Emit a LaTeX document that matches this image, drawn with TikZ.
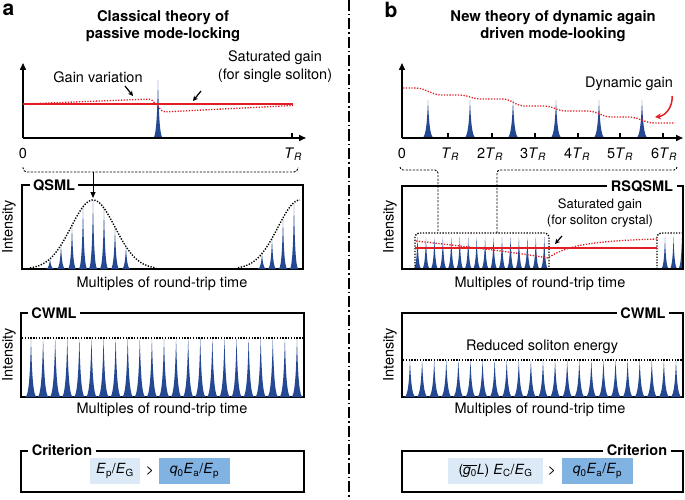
\documentclass[tikz,border=0pt]{standalone}
\usepackage{fontspec}
\setmainfont{TeX Gyre Heros}
\usetikzlibrary{arrows.meta}
\definecolor{pdark}{RGB}{36,72,145}
\definecolor{gred}{RGB}{225,30,35}
\definecolor{lbox}{RGB}{220,233,246}
\definecolor{dbox}{RGB}{128,178,226}
\newcommand{\mypulse}[4]{%
  \path[pulse] ({#1-#4},#3) .. controls ({#1-0.28*#4},#3) and ({#1-0.12*#4},{#3-0.55*(#3-#2)}) .. (#1,#2)
   .. controls ({#1+0.12*#4},{#3-0.55*(#3-#2)}) and ({#1+0.28*#4},#3) .. ({#1+#4},#3) -- cycle;}
\tikzset{
  pulse/.style={fill=pdark, draw=none},
  box/.style={line width=1.5pt},
  boxlabel/.style={fill=white, font=\bfseries\fontsize{14.5}{17}\selectfont, inner sep=3.5pt},
  txt/.style={font=\fontsize{14.5}{18}\selectfont, align=center, inner sep=0pt},
  stxt/.style={font=\fontsize{13}{16}\selectfont, align=center, inner sep=0pt},
  ttl/.style={font=\bfseries\fontsize{14.8}{17}\selectfont, align=center, inner sep=0pt},
  axis/.style={line width=1.5pt, -{Triangle[length=7pt,width=6pt]}},
  tick/.style={line width=1.2pt},
  bdot/.style={line width=1.4pt, dash pattern=on 1.3pt off 1.5pt},
  rdot/.style={gred, line width=1.3pt, dash pattern=on 1.3pt off 1.5pt},
  gline/.style={gred, line width=1.5pt},
  sarrow/.style={line width=1.2pt, -{Stealth[length=5pt,width=5pt]}},
  dashbr/.style={line width=0.9pt, dash pattern=on 2.2pt off 1.4pt},
  crit/.style={minimum height=26pt, inner sep=0pt, font=\fontsize{14}{16}\selectfont},
}
\begin{document}
\begin{tikzpicture}[x=1pt,y=-1pt]
\useasboundingbox (0,0) rectangle (685,500);

% separator
\coordinate (s1) at (349,0);
\coordinate (s2) at (349,500);
\draw[line width=1.1pt, dash pattern=on 11pt off 3pt on 1.5pt off 3pt] (s1) -- (s2);

% ================= LEFT PANEL =================
\node[font=\bfseries\fontsize{21}{21}\selectfont, inner sep=0pt] (la) at (8.5,10) {a};
\node[ttl] (ta) at (163,26) {Classical theory of\\passive mode-locking};

% top plot
\mypulse{158}{80}{138}{5}
\coordinate (oa) at (23,138);
\coordinate (ya) at (23,63);
\coordinate (xa) at (306,138);
\draw[axis] (oa) -- (ya);
\draw[axis] (oa) -- (xa);
\draw[tick] (292,138) -- (292,133);
\node[txt] (z0a) at (23,153) {0};
\node[txt] (tra) at (293,154) {\textit{T}\textsubscript{\textit{R}}};
\draw[gline] (23,104) -- (293,104);
\draw[rdot, rounded corners=2pt] (23,104) -- (151,99) -- (163,112) -- (293,105.5);
\node[txt] (gva) at (98,77) {Gain variation};
\coordinate (gv1) at (125,86);
\coordinate (gv2) at (133,96);
\draw[sarrow] (gv1) -- (gv2);
\node[txt] (sga) at (275,67) {Saturated gain\\(for single soliton)};
\coordinate (sg1) at (201,91);
\coordinate (sg2) at (193,101);
\draw[sarrow] (sg1) -- (sg2);

% brace
\coordinate (br1) at (23,167);
\coordinate (br2) at (298,167);
\coordinate (brc) at (93,172);
\coordinate (qpk) at (93,198);
\draw[dashbr, rounded corners=4pt] (br1) |- (brc) -| (br2);

% QSML box
\draw[box] (22,185) rectangle (303,269);
\node[boxlabel] (qsml) at (54,185) {QSML};
\draw[line width=1pt, -{Triangle[length=6pt,width=5pt]}] (brc) -- (qpk);
\foreach \x in {50,61,72,83,93,104,115,126} {
  \pgfmathsetmacro\tp{269-69*exp(-((\x-93)^2)/968)}
  \mypulse{\x}{\tp}{269}{4.5}
}
\foreach \x in {262,272,283,294} {
  \pgfmathsetmacro\tp{269-69*exp(-((\x-300)^2)/968)}
  \mypulse{\x}{\tp}{269}{4.5}
}
\draw[bdot] plot[domain=30:156, samples=70] (\x,{269-69*exp(-((\x-93)^2)/968)});
\draw[bdot] plot[domain=238:300, samples=40] (\x,{269-69*exp(-((\x-300)^2)/968)});
\node[txt, rotate=90] (ia1) at (9,227) {Intensity};
\node[txt] (ma1) at (162,284) {Multiples of round-trip time};

% CWML box
\draw[box] (21,313) rectangle (304,397);
\foreach \i in {0,...,22} {
  \pgfmathsetmacro\xx{31+12.09*\i}
  \mypulse{\xx}{338}{397}{5.8}
}
\draw[bdot] (22,338) -- (303,338);
\node[boxlabel] (cwa) at (54,313) {CWML};
\node[txt, rotate=90] (ia2) at (9,355) {Intensity};
\node[txt] (ma2) at (162,410) {Multiples of round-trip time};

% Criterion
\draw[box] (21,451) rectangle (304,492);
\node[boxlabel] (cra) at (62,450) {Criterion};
\node[crit, fill=lbox, minimum width=50pt] (ca1) at (115,471) {\textit{E}\textsubscript{p}/\textit{E}\textsubscript{G}};
\node[crit] (gta) at (150,471) {>};
\node[crit, fill=dbox, minimum width=71pt] (ca2) at (194.5,471) {\textit{q}\textsubscript{0}\textit{E}\textsubscript{a}/\textit{E}\textsubscript{p}};

% ================= RIGHT PANEL =================
\node[font=\bfseries\fontsize{21}{21}\selectfont, inner sep=0pt] (lb) at (391,10) {b};
\node[ttl] (tb) at (553,26) {New theory of dynamic again\\driven mode-looking};

\foreach \x in {428,470,513,556,599,642} {
  \mypulse{\x}{100}{138}{6}
}
\coordinate (ob) at (402,138);
\coordinate (yb) at (402,63);
\coordinate (xb) at (683,138);
\draw[axis] (ob) -- (yb);
\draw[axis] (ob) -- (xb);
\foreach \x in {448,492,535,578,620,663} {
  \draw[tick] (\x,138) -- (\x,133);
}
\node[txt] (z0b) at (402,153) {0};
\node[txt] (t1) at (450,154) {\textit{T}\textsubscript{\textit{R}}};
\node[txt] (t2) at (490,154) {2\textit{T}\textsubscript{\textit{R}}};
\node[txt] (t3) at (533,154) {3\textit{T}\textsubscript{\textit{R}}};
\node[txt] (t4) at (577,154) {4\textit{T}\textsubscript{\textit{R}}};
\node[txt] (t5) at (620,154) {5\textit{T}\textsubscript{\textit{R}}};
\node[txt] (t6) at (664,154) {6\textit{T}\textsubscript{\textit{R}}};
\draw[rdot, rounded corners=4pt] (403,88) -- (420,88) -- (437,95) -- (463,95) -- (477,99) -- (507,99) -- (520,106) -- (548,106) -- (562,111) -- (592,111) -- (607,117) -- (633,117) -- (650,123) -- (675,123);
\node[txt] (dgn) at (629,84) {Dynamic gain};
\coordinate (dg1) at (672,96);
\coordinate (dg2) at (655,117);
\draw[gred, line width=1.5pt, -{Stealth[length=6pt,width=6pt]}] (dg1) to[bend left=45] (dg2);

% brackets
\coordinate (bl1) at (400,167);
\coordinate (bl2) at (438,170);
\coordinate (bl3) at (438,233);
\coordinate (bm1) at (497,233);
\coordinate (bm2) at (497,170);
\coordinate (bm3) at (677,167);
\draw[dashbr, rounded corners=3pt] (bl1) |- (bl2) -- (bl3);
\draw[dashbr, rounded corners=3pt] (bm1) -- (bm2) -| (bm3);

% RSQSML box
\begin{scope}
\clip (402,186) rectangle (683,269);
\foreach \i in {0,...,15} {
  \pgfmathsetmacro\xx{417.5+8.45*\i}
  \mypulse{\xx}{237}{269}{4.2}
}
\foreach \x in {665,673.5,682} {
  \mypulse{\x}{237}{269}{4.2}
}
\end{scope}
\draw[bdot, rounded corners=4pt] (415,269) -- (415,233) -- (549,233) -- (549,269);
\draw[bdot, rounded corners=4pt] (657,269) -- (657,233) -- (683,233);
\draw[gline] (415,248) -- (657,248);
\draw[rdot] (416,241) .. controls (470,247) and (520,253) .. (548,258) .. controls (565,246) and (590,241) .. (657,239);
\draw[box] (402,186) rectangle (683,269);
\node[boxlabel] (rsq) at (642,186) {RSQSML};
\node[stxt] (sgb) at (600,213) {Saturated gain\\(for soliton crystal)};
\coordinate (sc1) at (562,236);
\coordinate (sc2) at (555,244);
\draw[sarrow] (sc1) -- (sc2);
\node[txt, rotate=90] (ib1) at (390,227) {Intensity};
\node[txt] (mb1) at (540,284) {Multiples of round-trip time};

% CWML right
\draw[box] (402,313) rectangle (683,397);
\foreach \i in {0,...,22} {
  \pgfmathsetmacro\xx{410+12.09*\i}
  \mypulse{\xx}{360}{397}{5.8}
}
\draw[bdot] (403,360) -- (682,360);
\node[boxlabel] (cwb) at (643,313) {CWML};
\node[txt] (rse) at (542,347) {Reduced soliton energy};
\node[txt, rotate=90] (ib2) at (390,355) {Intensity};
\node[txt] (mb2) at (540,410) {Multiples of round-trip time};

% Criterion right
\draw[box] (402,451) rectangle (683,492);
\node[boxlabel] (crb) at (637,450) {Criterion};
\node[crit, fill=lbox, minimum width=95pt] (cb1) at (495.5,471) {($\overline{\mbox{\textit{g}\textsubscript{0}}}$\textit{L}) \textit{E}\textsubscript{C}/\textit{E}\textsubscript{G}};
\node[crit] (gtb) at (552,471) {>};
\node[crit, fill=dbox, minimum width=71pt] (cb2) at (597.5,471) {\textit{q}\textsubscript{0}\textit{E}\textsubscript{a}/\textit{E}\textsubscript{p}};

\end{tikzpicture}
\end{document}
